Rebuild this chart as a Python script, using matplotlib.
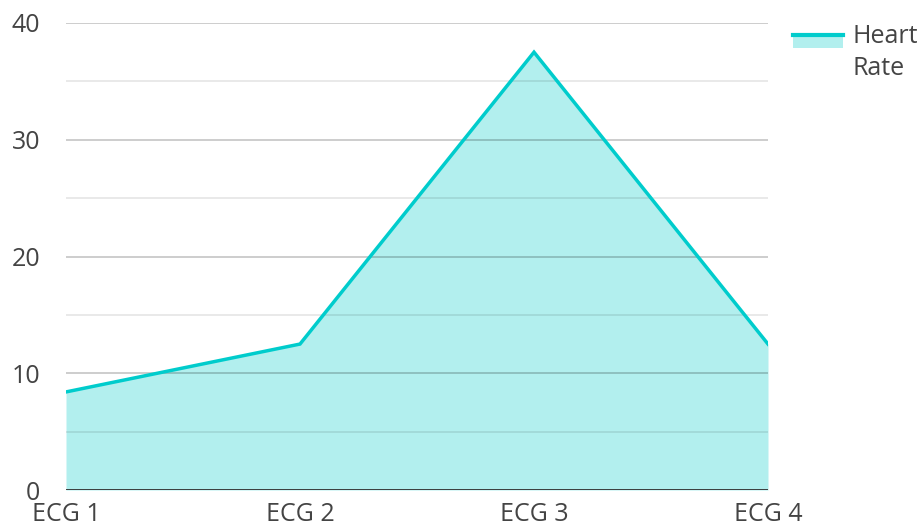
import matplotlib.pyplot as plt
from matplotlib.lines import Line2D
from matplotlib.patches import Rectangle

plt.rcParams['font.family'] = ['Open Sans', 'DejaVu Sans']

categories = ['ECG 1', 'ECG 2', 'ECG 3', 'ECG 4']
heart_rate = [8.4, 12.5, 37.5, 12.5]
series_name = 'Heart\nRate'

line_color = '#00cccc'
fill_color = '#b2efee'
text_color = '#444444'

W, H = 922, 531
fig = plt.figure(figsize=(W / 100, H / 100), dpi=100)
ax = fig.add_axes([66 / W, (H - 490) / H, (768 - 66) / W, (490 - 23) / H])

x = range(len(categories))
ax.fill_between(x, 0, heart_rate, color=fill_color, lw=0, zorder=1)
ax.plot(x, heart_rate, color=line_color, lw=2.5, zorder=3, solid_joinstyle='miter')

ax.set_xlim(0, len(categories) - 1)
ax.set_ylim(0, 40)
ax.set_yticks([0, 10, 20, 30, 40])
ax.set_yticks([5, 15, 25, 35], minor=True)
ax.set_xticks(list(x))
ax.set_xticklabels(categories)

# translucent grid over the filled area
ax.set_axisbelow(False)
ax.grid(axis='y', which='major', color='black', alpha=0.23, lw=1.2, zorder=2)
ax.grid(axis='y', which='minor', color='black', alpha=0.1, lw=1.2, zorder=2)
ax.axhline(0, color='#333333', lw=2, zorder=4)

for s in ax.spines.values():
    s.set_visible(False)
ax.tick_params(axis='both', which='both', length=0, labelsize=18, colors=text_color)
ax.tick_params(axis='y', pad=18.5)
ax.tick_params(axis='x', pad=8.5)

# legend key drawn by hand: line over a filled swatch
fig.add_artist(Rectangle((793 / W, (H - 48) / H), 50 / W, 13 / H,
                         transform=fig.transFigure, color=fill_color, lw=0))
fig.add_artist(Line2D([793 / W, 843 / W], [(H - 35) / H] * 2,
                      transform=fig.transFigure, color=line_color, lw=3))
for i, word in enumerate(series_name.split('\n')):
    fig.text(852 / W, (H - 43 - 32 * i) / H, word, fontsize=18, color=text_color,
             va='baseline', ha='left')

fig.savefig('out.png', dpi=100)
